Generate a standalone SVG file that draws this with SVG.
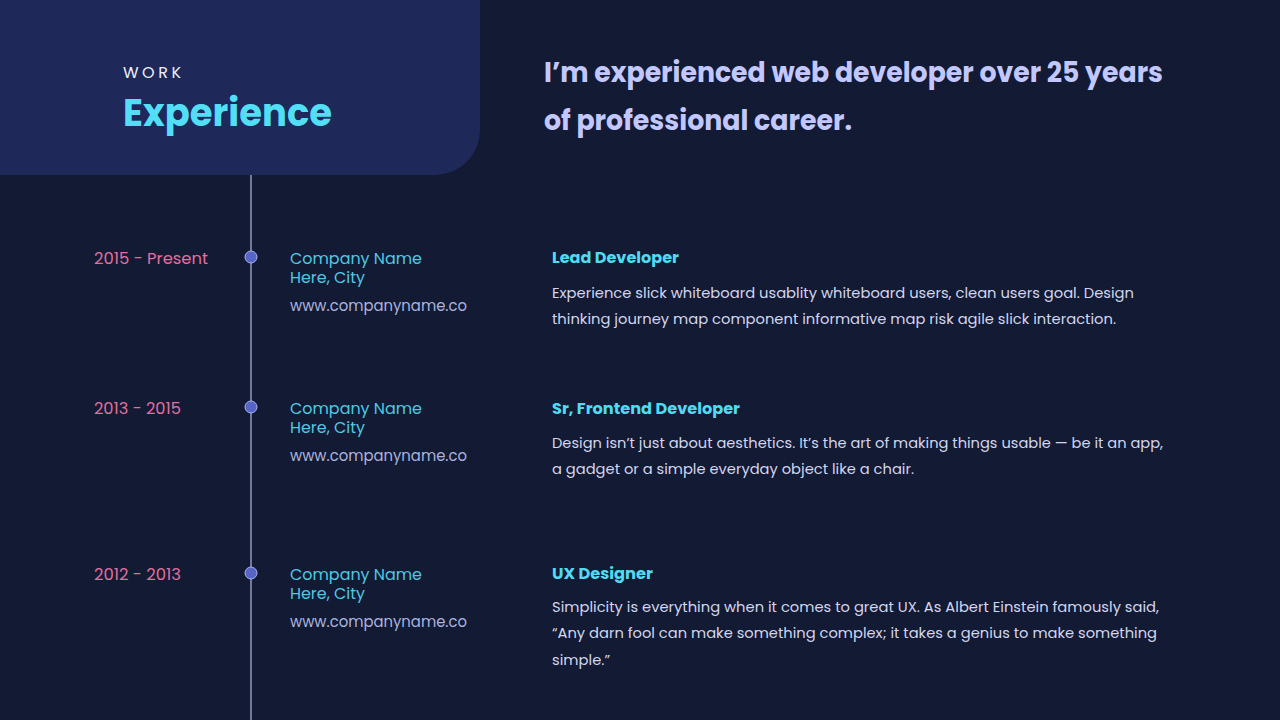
<svg xmlns="http://www.w3.org/2000/svg" width="1280" height="720" viewBox="0 0 1280 720">
<style>
text{font-family:Poppins,Inter,"Open Sans","Liberation Sans",sans-serif}
.date{font-size:16.5px;fill:#e2709f}
.co{font-size:16.5px;fill:#4fc8e2}
.url{font-size:16px;fill:#aab3df}
.title{font-size:16px;font-weight:700;fill:#4fdcf2}
.desc{font-size:15px;fill:#d2d6ee}
.dot{fill:#5766c6;stroke:#a9b3ee;stroke-width:1}
</style>
<rect width="1280" height="720" fill="#131a33"/>
<g id="header">
<path d="M0 0H480V130A45 45 0 0 1 435 175H0Z" fill="#1e2859"/>
<text x="123" y="78" font-size="16" letter-spacing="4" fill="#eceef8" textLength="62">WORK</text>
<text x="123" y="126" font-size="38" font-weight="700" fill="#52def5" textLength="209" lengthAdjust="spacingAndGlyphs">Experience</text>
</g>
<g id="headline" font-size="28" font-weight="700" fill="#c2c8ff">
<text x="544" y="82" textLength="619" lengthAdjust="spacingAndGlyphs">I’m experienced web developer over 25 years</text>
<text x="544" y="130" textLength="308" lengthAdjust="spacingAndGlyphs">of professional career.</text>
</g>
<g id="connectors">
<line x1="251" y1="175" x2="251" y2="720" stroke="#b3bbea" stroke-width="1.2"/>
</g>
<g id="item1">
<text class="date" x="94" y="264" textLength="114" lengthAdjust="spacingAndGlyphs">2015 - Present</text>
<circle class="dot" cx="251" cy="257" r="6"/>
<text class="co" x="290" y="264" textLength="132" lengthAdjust="spacingAndGlyphs">Company Name</text>
<text class="co" x="290" y="283" textLength="75" lengthAdjust="spacingAndGlyphs">Here, City</text>
<text class="url" x="290" y="311" textLength="177" lengthAdjust="spacingAndGlyphs">www.companyname.co</text>
<text class="title" x="552" y="263" textLength="127" lengthAdjust="spacingAndGlyphs">Lead Developer</text>
<text class="desc" x="552" y="298" textLength="582" lengthAdjust="spacingAndGlyphs">Experience slick whiteboard usablity whiteboard users, clean users goal. Design</text>
<text class="desc" x="552" y="324" textLength="564" lengthAdjust="spacingAndGlyphs">thinking journey map component informative map risk agile slick interaction.</text>
</g>
<g id="item2">
<text class="date" x="94" y="414" textLength="87" lengthAdjust="spacingAndGlyphs">2013 - 2015</text>
<circle class="dot" cx="251" cy="407" r="6"/>
<text class="co" x="290" y="414" textLength="132" lengthAdjust="spacingAndGlyphs">Company Name</text>
<text class="co" x="290" y="433" textLength="75" lengthAdjust="spacingAndGlyphs">Here, City</text>
<text class="url" x="290" y="461" textLength="177" lengthAdjust="spacingAndGlyphs">www.companyname.co</text>
<text class="title" x="552" y="414" textLength="188" lengthAdjust="spacingAndGlyphs">Sr, Frontend Developer</text>
<text class="desc" x="552" y="448" textLength="611" lengthAdjust="spacingAndGlyphs">Design isn’t just about aesthetics. It’s the art of making things usable — be it an app,</text>
<text class="desc" x="552" y="474" textLength="362" lengthAdjust="spacingAndGlyphs">a gadget or a simple everyday object like a chair.</text>
</g>
<g id="item3">
<text class="date" x="94" y="580" textLength="87" lengthAdjust="spacingAndGlyphs">2012 - 2013</text>
<circle class="dot" cx="251" cy="573" r="6"/>
<text class="co" x="290" y="580" textLength="132" lengthAdjust="spacingAndGlyphs">Company Name</text>
<text class="co" x="290" y="599" textLength="75" lengthAdjust="spacingAndGlyphs">Here, City</text>
<text class="url" x="290" y="627" textLength="177" lengthAdjust="spacingAndGlyphs">www.companyname.co</text>
<text class="title" x="552" y="579" textLength="101" lengthAdjust="spacingAndGlyphs">UX Designer</text>
<text class="desc" x="552" y="612" textLength="607" lengthAdjust="spacingAndGlyphs">Simplicity is everything when it comes to great UX. As Albert Einstein famously said,</text>
<text class="desc" x="552" y="638" textLength="605" lengthAdjust="spacingAndGlyphs">“Any darn fool can make something complex; it takes a genius to make something</text>
<text class="desc" x="552" y="665" textLength="58" lengthAdjust="spacingAndGlyphs">simple.”</text>
</g>
</svg>
